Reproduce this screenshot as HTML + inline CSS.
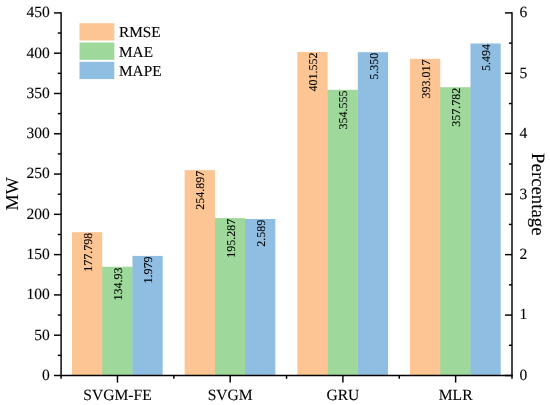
<!DOCTYPE html><html><head><meta charset="utf-8"><style>html,body{margin:0;padding:0;background:#fff;width:550px;height:405px;overflow:hidden}svg{display:block}text{font-family:'Liberation Serif', serif;fill:#000;stroke:#000;stroke-width:0.1px}text.v{stroke-width:0.1px}</style></head><body>
<svg width="550" height="405" viewBox="0 0 550 405">
<g>
<rect x="72.00" y="232.23" width="30.23" height="143.27" fill="#FCC593"/>
<rect x="102.03" y="266.78" width="1.2" height="108.72" fill="#FCC593"/>
<rect x="102.23" y="266.78" width="30.23" height="108.72" fill="#9ED89A"/>
<rect x="132.26" y="266.78" width="1.2" height="108.72" fill="#9ED89A"/>
<rect x="132.46" y="255.90" width="30.23" height="119.60" fill="#8FBEE2"/>
<rect x="184.67" y="170.11" width="30.23" height="205.39" fill="#FCC593"/>
<rect x="214.70" y="218.14" width="1.2" height="157.36" fill="#FCC593"/>
<rect x="214.90" y="218.14" width="30.23" height="157.36" fill="#9ED89A"/>
<rect x="244.93" y="219.04" width="1.2" height="156.46" fill="#9ED89A"/>
<rect x="245.13" y="219.04" width="30.23" height="156.46" fill="#8FBEE2"/>
<rect x="297.34" y="51.94" width="30.23" height="323.56" fill="#FCC593"/>
<rect x="327.37" y="89.81" width="1.2" height="285.69" fill="#FCC593"/>
<rect x="327.57" y="89.81" width="30.23" height="285.69" fill="#9ED89A"/>
<rect x="357.60" y="89.81" width="1.2" height="285.69" fill="#9ED89A"/>
<rect x="357.80" y="52.18" width="30.23" height="323.32" fill="#8FBEE2"/>
<rect x="410.01" y="58.82" width="30.23" height="316.68" fill="#FCC593"/>
<rect x="440.04" y="87.21" width="1.2" height="288.29" fill="#FCC593"/>
<rect x="440.24" y="87.21" width="30.23" height="288.29" fill="#9ED89A"/>
<rect x="470.27" y="87.21" width="1.2" height="288.29" fill="#9ED89A"/>
<rect x="470.47" y="43.48" width="30.23" height="332.02" fill="#8FBEE2"/>
</g>
<text font-size="12" text-anchor="end" class="v" transform="translate(91.71 232.83) rotate(-90) skewX(0.1)">177.798</text>
<text font-size="12" text-anchor="end" class="v" transform="translate(121.94 267.38) rotate(-90) skewX(0.1)">134.93</text>
<text font-size="12" text-anchor="end" class="v" transform="translate(152.18 256.50) rotate(-90) skewX(0.1)">1.979</text>
<text font-size="12" text-anchor="end" class="v" transform="translate(204.39 170.71) rotate(-90) skewX(0.1)">254.897</text>
<text font-size="12" text-anchor="end" class="v" transform="translate(234.62 218.74) rotate(-90) skewX(0.1)">195.287</text>
<text font-size="12" text-anchor="end" class="v" transform="translate(264.85 219.64) rotate(-90) skewX(0.1)">2.589</text>
<text font-size="12" text-anchor="end" class="v" transform="translate(317.06 52.54) rotate(-90) skewX(0.1)">401.552</text>
<text font-size="12" text-anchor="end" class="v" transform="translate(347.29 90.41) rotate(-90) skewX(0.1)">354.555</text>
<text font-size="12" text-anchor="end" class="v" transform="translate(377.52 52.78) rotate(-90) skewX(0.1)">5.350</text>
<text font-size="12" text-anchor="end" class="v" transform="translate(429.73 59.42) rotate(-90) skewX(0.1)">393.017</text>
<text font-size="12" text-anchor="end" class="v" transform="translate(459.96 87.81) rotate(-90) skewX(0.1)">357.782</text>
<text font-size="12" text-anchor="end" class="v" transform="translate(490.19 44.08) rotate(-90) skewX(0.1)">5.494</text>
<g stroke="#000" stroke-width="1.45" fill="none">
<line x1="61.10" y1="12.18" x2="61.10" y2="376.23"/>
<line x1="512.00" y1="12.18" x2="512.00" y2="376.23"/>
<line x1="60.38" y1="375.50" x2="512.73" y2="375.50"/>
<line x1="54.00" y1="375.50" x2="61.10" y2="375.50"/>
<line x1="57.80" y1="355.36" x2="61.10" y2="355.36"/>
<line x1="54.00" y1="335.21" x2="61.10" y2="335.21"/>
<line x1="57.80" y1="315.07" x2="61.10" y2="315.07"/>
<line x1="54.00" y1="294.92" x2="61.10" y2="294.92"/>
<line x1="57.80" y1="274.78" x2="61.10" y2="274.78"/>
<line x1="54.00" y1="254.63" x2="61.10" y2="254.63"/>
<line x1="57.80" y1="234.49" x2="61.10" y2="234.49"/>
<line x1="54.00" y1="214.34" x2="61.10" y2="214.34"/>
<line x1="57.80" y1="194.20" x2="61.10" y2="194.20"/>
<line x1="54.00" y1="174.06" x2="61.10" y2="174.06"/>
<line x1="57.80" y1="153.91" x2="61.10" y2="153.91"/>
<line x1="54.00" y1="133.77" x2="61.10" y2="133.77"/>
<line x1="57.80" y1="113.62" x2="61.10" y2="113.62"/>
<line x1="54.00" y1="93.48" x2="61.10" y2="93.48"/>
<line x1="57.80" y1="73.33" x2="61.10" y2="73.33"/>
<line x1="54.00" y1="53.19" x2="61.10" y2="53.19"/>
<line x1="57.80" y1="33.04" x2="61.10" y2="33.04"/>
<line x1="54.00" y1="12.90" x2="61.10" y2="12.90"/>
<line x1="505.00" y1="375.50" x2="512.00" y2="375.50"/>
<line x1="508.90" y1="345.28" x2="512.00" y2="345.28"/>
<line x1="505.00" y1="315.07" x2="512.00" y2="315.07"/>
<line x1="508.90" y1="284.85" x2="512.00" y2="284.85"/>
<line x1="505.00" y1="254.63" x2="512.00" y2="254.63"/>
<line x1="508.90" y1="224.42" x2="512.00" y2="224.42"/>
<line x1="505.00" y1="194.20" x2="512.00" y2="194.20"/>
<line x1="508.90" y1="163.98" x2="512.00" y2="163.98"/>
<line x1="505.00" y1="133.77" x2="512.00" y2="133.77"/>
<line x1="508.90" y1="103.55" x2="512.00" y2="103.55"/>
<line x1="505.00" y1="73.33" x2="512.00" y2="73.33"/>
<line x1="508.90" y1="43.12" x2="512.00" y2="43.12"/>
<line x1="505.00" y1="12.90" x2="512.00" y2="12.90"/>
<line x1="61.10" y1="375.50" x2="61.10" y2="378.80"/>
<line x1="173.82" y1="375.50" x2="173.82" y2="378.80"/>
<line x1="286.55" y1="375.50" x2="286.55" y2="378.80"/>
<line x1="399.27" y1="375.50" x2="399.27" y2="378.80"/>
<line x1="512.00" y1="375.50" x2="512.00" y2="378.80"/>
<line x1="117.46" y1="375.50" x2="117.46" y2="382.60"/>
<line x1="230.19" y1="375.50" x2="230.19" y2="382.60"/>
<line x1="342.91" y1="375.50" x2="342.91" y2="382.60"/>
<line x1="455.64" y1="375.50" x2="455.64" y2="382.60"/>
</g>
<text font-size="15.6" text-anchor="end" transform="translate(49.90 379.90) skewX(0.1)">0</text>
<text font-size="15.6" text-anchor="end" transform="translate(49.90 339.61) skewX(0.1)">50</text>
<text font-size="15.6" text-anchor="end" transform="translate(49.90 299.32) skewX(0.1)">100</text>
<text font-size="15.6" text-anchor="end" transform="translate(49.90 259.03) skewX(0.1)">150</text>
<text font-size="15.6" text-anchor="end" transform="translate(49.90 218.74) skewX(0.1)">200</text>
<text font-size="15.6" text-anchor="end" transform="translate(49.90 178.46) skewX(0.1)">250</text>
<text font-size="15.6" text-anchor="end" transform="translate(49.90 138.17) skewX(0.1)">300</text>
<text font-size="15.6" text-anchor="end" transform="translate(49.90 97.88) skewX(0.1)">350</text>
<text font-size="15.6" text-anchor="end" transform="translate(49.90 57.59) skewX(0.1)">400</text>
<text font-size="15.6" text-anchor="end" transform="translate(49.90 17.30) skewX(0.1)">450</text>
<text font-size="15.6" transform="translate(519.50 379.90) skewX(0.1)">0</text>
<text font-size="15.6" transform="translate(519.50 319.47) skewX(0.1)">1</text>
<text font-size="15.6" transform="translate(519.50 259.03) skewX(0.1)">2</text>
<text font-size="15.6" transform="translate(519.50 198.60) skewX(0.1)">3</text>
<text font-size="15.6" transform="translate(519.50 138.17) skewX(0.1)">4</text>
<text font-size="15.6" transform="translate(519.50 77.73) skewX(0.1)">5</text>
<text font-size="15.6" transform="translate(519.50 17.30) skewX(0.1)">6</text>
<text font-size="15.6" text-anchor="middle" transform="translate(117.46 399.50) skewX(0.1)">SVGM-FE</text>
<text font-size="15.6" text-anchor="middle" transform="translate(230.19 399.50) skewX(0.1)">SVGM</text>
<text font-size="15.6" text-anchor="middle" transform="translate(342.91 399.50) skewX(0.1)">GRU</text>
<text font-size="15.6" text-anchor="middle" transform="translate(455.64 399.50) skewX(0.1)">MLR</text>
<text font-size="18.2" text-anchor="middle" transform="translate(18.20 193.80) rotate(-90) skewX(0.1)">MW</text>
<text font-size="18.8" text-anchor="middle" transform="translate(532.30 194.30) rotate(90) skewX(0.1)">Percentage</text>
<rect x="79.5" y="23.20" width="34.8" height="17.3" fill="#FCC593"/>
<text font-size="15.3" transform="translate(119.00 37.20) skewX(0.1)">RMSE</text>
<rect x="79.5" y="42.50" width="34.8" height="17.3" fill="#9ED89A"/>
<text font-size="15.3" transform="translate(119.00 56.50) skewX(0.1)">MAE</text>
<rect x="79.5" y="61.80" width="34.8" height="17.3" fill="#8FBEE2"/>
<text font-size="15.3" transform="translate(119.00 75.80) skewX(0.1)">MAPE</text>
</svg></body></html>
